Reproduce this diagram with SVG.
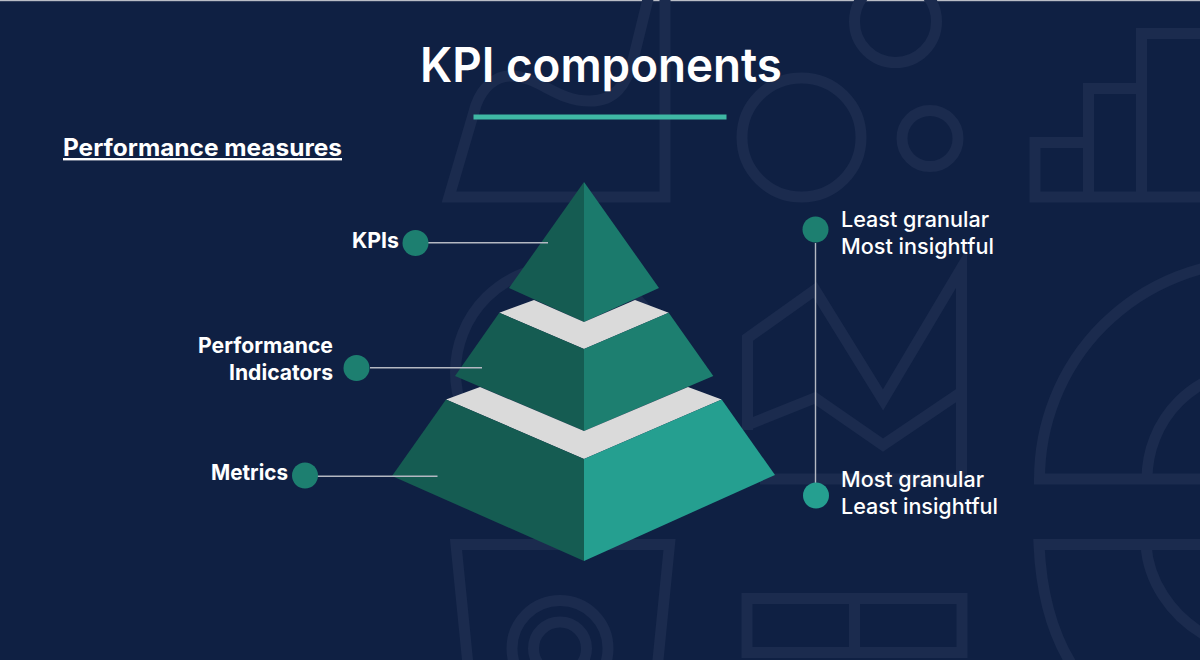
<svg xmlns="http://www.w3.org/2000/svg" width="1200" height="660" viewBox="0 0 1200 660">
<style>
.bg{fill:none;stroke:#1b2b4e;stroke-width:11}
.t{font-family:"Inter","Liberation Sans",sans-serif;fill:#fff}
.l{font-size:21.5px;font-weight:700}
.r{font-size:21.5px;font-weight:500}
.c{stroke:#b4b8c2;stroke-width:1.4;fill:none}
</style>
<rect width="1200" height="660" fill="#0f2043"/>
<rect width="1200" height="1.2" fill="#b9bdc6"/>
<g id="background">
<path class="bg" d="M665,-5V197H449L476,105C482,88 495,76 510,76C540,76 555,101 590,101C615,101 626,85 633,60L649,-5"/>
<circle class="bg" cx="895.5" cy="21.5" r="41"/>
<circle class="bg" cx="801.5" cy="137.5" r="59.5"/>
<circle class="bg" cx="930" cy="138.5" r="28"/>
<path class="bg" d="M1205,197H1035V142.5H1088.5V197M1088.5,142.5V88.5H1141.5V197M1141.5,88.5V33.5H1205"/>
<circle class="bg" cx="561" cy="372" r="105.5"/>
<path class="bg" d="M747.5,430V338L815,290L883,400L961.5,268V479H760M747.5,425L815,398L883,445L961.5,392"/>
<path class="bg" d="M1205,479H1039.5A217.5,217.5 0 0 1 1257,261.5M1147,479A110,110 0 0 1 1257,369"/>
<path class="bg" d="M468,665L456,544.5H669.5L657.5,665"/>
<circle class="bg" cx="560" cy="648.5" r="48"/>
<circle class="bg" cx="560" cy="648.5" r="26.5"/>
<path class="bg" d="M747,598.5H962V652.5H747ZM854.5,598.5V652.5"/>
<path class="bg" d="M1205,544.5H1039C1041,590 1050,630 1072,665M1146,544.5C1148,580 1170,615 1205,635"/>
</g>
<g id="title">
<text class="t" x="420" y="82" font-size="48" font-weight="600" textLength="362" lengthAdjust="spacingAndGlyphs">KPI components</text>
<rect x="473.5" y="114.5" width="253" height="5" fill="#3fb8a4"/>
</g>
<g id="subtitle">
<text class="t" x="63" y="156" font-size="24" font-weight="700" text-decoration="underline" textLength="279" lengthAdjust="spacingAndGlyphs">Performance measures</text>
</g>
<g id="pyramid">
<g id="tier-kpis">
<path d="M584,182L509,288L584,322Z" fill="#155c52"/>
<path d="M584,182L659,288L584,322Z" fill="#1b7a6c"/>
</g>
<path id="band-upper" d="M499.3,312.7L534,300L584,322L635,300L668.7,312.7L584,349Z" fill="#dadada"/>
<g id="tier-performance-indicators">
<path d="M499.3,312.7L455,376L584,431V349Z" fill="#155c52"/>
<path d="M668.7,312.7L713.3,376L584,431V349Z" fill="#1d7f70"/>
</g>
<path id="band-lower" d="M446,399.5L480,387L584,431L688,387L721.7,399.5L584,459Z" fill="#dadada"/>
<g id="tier-metrics">
<path d="M446,399.5L392,476L584,561V459Z" fill="#155c52"/>
<path d="M721.7,399.5L775,475L584,561V459Z" fill="#259f90"/>
</g>
</g>
<g id="connectors">
<path class="c" d="M428,242.7H548M370,367.7H482M317,476.3H437.5M815.5,243V483"/>
</g>
<g id="node-kpis">
<circle cx="415.5" cy="243" r="13" fill="#1d7f70"/>
<text class="t l" x="352" y="248" textLength="47" lengthAdjust="spacingAndGlyphs">KPIs</text>
</g>
<g id="node-performance-indicators">
<circle cx="356.5" cy="368" r="13" fill="#1d7f70"/>
<text class="t l" x="198" y="353" textLength="135" lengthAdjust="spacingAndGlyphs">Performance</text>
<text class="t l" x="229" y="380" textLength="104" lengthAdjust="spacingAndGlyphs">Indicators</text>
</g>
<g id="node-metrics">
<circle cx="305" cy="475.5" r="13" fill="#1d7f70"/>
<text class="t l" x="211" y="480" textLength="77" lengthAdjust="spacingAndGlyphs">Metrics</text>
</g>
<g id="node-least-granular">
<circle cx="815.5" cy="229.5" r="13" fill="#1d7f70"/>
<text class="t r" x="841" y="227" textLength="148" lengthAdjust="spacingAndGlyphs">Least granular</text>
<text class="t r" x="841" y="254" textLength="153" lengthAdjust="spacingAndGlyphs">Most insightful</text>
</g>
<g id="node-most-granular">
<circle cx="816" cy="495.5" r="13" fill="#259f90"/>
<text class="t r" x="841" y="487" textLength="143" lengthAdjust="spacingAndGlyphs">Most granular</text>
<text class="t r" x="841" y="514" textLength="157" lengthAdjust="spacingAndGlyphs">Least insightful</text>
</g>
</svg>
